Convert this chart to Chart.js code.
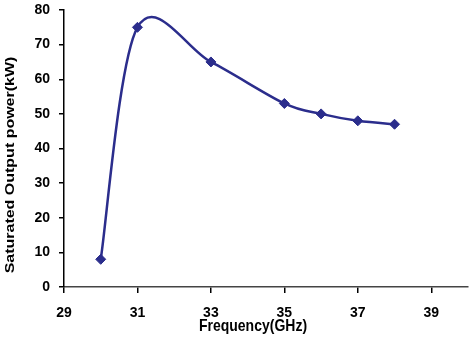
<!DOCTYPE html>
<html>
<head>
<meta charset="utf-8">
<script src="https://cdn.jsdelivr.net/npm/chart.js@4.4.0/dist/chart.umd.min.js"></script>
<style>
  html, body { margin: 0; padding: 0; background: #fff; }
  #chart-box { width: 474px; height: 339px; }
</style>
</head>
<body>
<div id="chart-box"><canvas id="power-chart" width="474" height="339"></canvas></div>
<script>
// saturated output power against frequency
const freqs = [30, 31, 33, 35, 36, 37, 38];
const powers = [8, 75, 65, 53, 50, 48, 47];
const xTicks = [29, 31, 33, 35, 37, 39];
const xTitle = 'Frequency(GHz)';
const yTitle = 'Saturated Output power(kW)';

const LINE = '#2b2d8c';
const FONT = '"Liberation Sans", Arial, sans-serif';

// spreadsheet-style smoothing: control points at 1/6 of the neighbour span
const smoothLine = {
  id: 'smoothLine',
  beforeDatasetDraw(chart, args) {
    const meta = args.meta;
    const pts = meta.data;
    for (let i = 0; i < pts.length; i++) {
      const p = pts[i];
      const prev = pts[i - 1] || p;
      const next = pts[i + 1] || p;
      const dx = (next.x - prev.x) / 6;
      const dy = (next.y - prev.y) / 6;
      p.cp1x = p.x - dx; p.cp1y = p.y - dy;
      p.cp2x = p.x + dx; p.cp2y = p.y + dy;
    }
    meta.dataset._pointsUpdated = true;
    meta.dataset._path = undefined;
  }
};

// axis titles, slightly stretched like the old figure text
const axisTitles = {
  id: 'axisTitles',
  afterDraw(chart) {
    const ctx = chart.ctx;
    ctx.save();
    ctx.fillStyle = '#000';
    ctx.textAlign = 'center';
    ctx.textBaseline = 'middle';
    ctx.font = 'bold 14px ' + FONT;
    ctx.translate(253, 327);
    ctx.scale(1, 1.15);
    ctx.fillText(xTitle, 0, 0);
    ctx.restore();

    ctx.save();
    ctx.fillStyle = '#000';
    ctx.textAlign = 'center';
    ctx.textBaseline = 'middle';
    ctx.font = 'bold 13px ' + FONT;
    ctx.translate(10, 165);
    ctx.rotate(-Math.PI / 2);
    ctx.scale(1.23, 1);
    ctx.fillText(yTitle, 0, 0);
    ctx.restore();
  }
};

const ctx = document.getElementById('power-chart').getContext('2d');
const chart = new Chart(ctx, {
  type: 'line',
  data: {
    datasets: [{
      data: freqs.map((f, i) => ({ x: f, y: powers[i] })),
      borderColor: LINE,
      backgroundColor: LINE,
      borderWidth: 2.5,
      tension: 0.4,
      pointStyle: 'rectRot',
      pointRadius: 5,
      pointBorderWidth: 1,
      fill: false
    }]
  },
  options: {
    responsive: false,
    animation: false,
    layout: { padding: { top: 10, right: 0, left: 0, bottom: 0 } },
    scales: {
      x: {
        type: 'linear',
        min: 29,
        max: 40,
        afterBuildTicks: function(scale) {
          scale.ticks = xTicks.map(v => ({ value: v }));
        },
        afterFit: function(scale) {
          scale.height = 52;
          scale.paddingRight = 1;
        },
        border: { display: true, color: '#444', width: 1.5 },
        grid: { drawOnChartArea: false, drawTicks: true, tickLength: 6, color: '#000', lineWidth: 1.5 },
        ticks: {
          color: '#000',
          padding: 12,
          maxRotation: 0,
          font: { family: FONT, size: 14, weight: 'bold' }
        }
      },
      y: {
        min: 0,
        max: 80,
        afterFit: function(scale) {
          scale.width = 64;
          scale.paddingTop = 0;
          scale.paddingBottom = 0;
        },
        border: { display: true, color: '#000', width: 1.5 },
        grid: { drawOnChartArea: false, drawTicks: true, tickLength: 5, color: '#000', lineWidth: 1.5 },
        ticks: {
          stepSize: 10,
          color: '#000',
          padding: 9,
          font: { family: FONT, size: 14, weight: 'bold' }
        }
      }
    },
    plugins: {
      legend: { display: false },
      tooltip: { enabled: false }
    }
  },
  plugins: [smoothLine, axisTitles]
});
</script>
</body>
</html>
